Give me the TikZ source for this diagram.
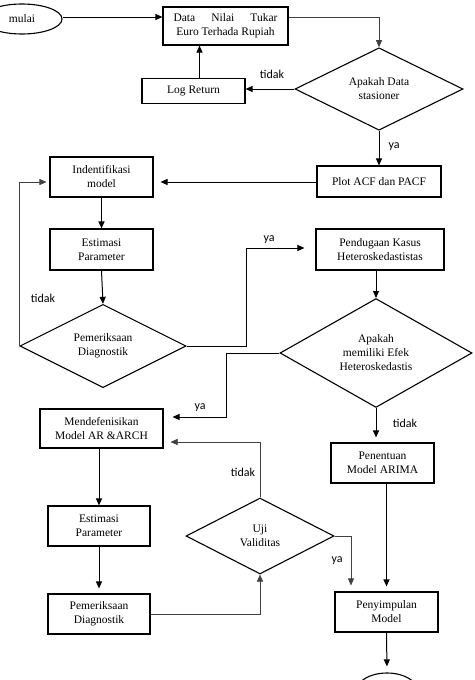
\documentclass[tikz,border=0pt]{standalone}
\usepackage{fontspec}
\setmainfont{Liberation Serif}
\newfontfamily\labfont{Carlito}
\usetikzlibrary{shapes.geometric,arrows.meta}
\begin{document}
\begin{tikzpicture}[x=1pt,y=-1pt,
  box/.style={draw,line width=1.1pt,inner sep=0pt,align=center,font=\fontsize{11.5}{14}\selectfont},
  dia/.style={draw,diamond,line width=1.1pt,inner sep=0pt,align=center,font=\fontsize{11.5}{14}\selectfont},
  oval/.style={draw,ellipse,line width=1.1pt,inner sep=0pt,font=\fontsize{11.5}{14}\selectfont},
  arr/.style={line width=1pt,-{Triangle[length=7pt,width=6pt]}},
  thinarr/.style={line width=0.6pt,draw=black!75,-{Triangle[length=7pt,width=6pt]}},
  thinline/.style={line width=0.6pt,draw=black!75},
  lab/.style={font=\labfont\fontsize{12}{14}\selectfont,inner sep=0pt}]
\useasboundingbox (0,0) rectangle (474,680);
% nodes
\node[oval,minimum width=80pt,minimum height=30pt] (start) at (22,19) {mulai};
\node[box,minimum width=125pt,minimum height=38pt] (data) at (225.5,26)
  {\makebox[104pt][s]{Data Nilai Tukar}\\Euro Terhada Rupiah};
\node[box,minimum width=103pt,minimum height=25pt] (logret) at (193.5,91) {Log Return};
\node[dia,minimum width=168pt,minimum height=82pt] (d1) at (379,89) {Apakah Data\\stasioner};
\node[box,minimum width=124pt,minimum height=31pt] (plot) at (379,181.5) {Plot ACF dan PACF};
\node[box,minimum width=103pt,minimum height=40pt] (ident) at (101.5,177) {Indentifikasi\\model};
\node[box,minimum width=103pt,minimum height=41pt] (est1) at (101.5,249.5) {Estimasi\\Parameter};
\node[dia,minimum width=166pt,minimum height=74pt] (d2) at (103,346) {Pemeriksaan\\Diagnostik};
\node[box,minimum width=128pt,minimum height=41pt] (pend) at (380,249.5) {Pendugaan Kasus\\Heteroskedastistas};
\node[dia,minimum width=192pt,minimum height=102pt] (d3) at (376,353) {Apakah\\memiliki Efek\\Heteroskedastis};
\node[box,minimum width=123pt,minimum height=39pt] (mdef) at (101.5,428.5) {Mendefenisikan\\Model AR \&ARCH};
\node[box,minimum width=103pt,minimum height=40pt] (pen) at (382.5,463) {Penentuan\\Model ARIMA};
\node[box,minimum width=102pt,minimum height=40pt] (est2) at (99,526) {Estimasi\\Parameter};
\node[box,minimum width=102pt,minimum height=40pt] (pem2) at (99,614) {Pemeriksaan\\Diagnostik};
\node[dia,minimum width=148pt,minimum height=76pt] (d4) at (260,536) {Uji\\Validitas};
\node[box,minimum width=103pt,minimum height=40pt] (peny) at (386.5,612) {Penyimpulan\\Model};
\node[oval,minimum width=60pt,minimum height=34pt] (stop) at (387,690) {};
% labels
\node[lab] (l1) at (272,74) {tidak};
\node[lab] (l2) at (394,147) {ya};
\node[lab] (l3) at (43,298) {tidak};
\node[lab] (l4) at (269,240) {ya};
\node[lab] (l5) at (200,408) {ya};
\node[lab] (l6) at (405,423) {tidak};
\node[lab] (l7) at (243,472) {tidak};
\node[lab] (l8) at (337,561) {ya};
% helper coordinates
\coordinate (k1) at (246,248);
\coordinate (k2) at (226,417);
\coordinate (k3) at (260,442);
\coordinate (k4) at (351,536);
% connectors
\draw[arr] (start.east |- 0,17) -- (data.west |- 0,17);
\draw[thinarr] ([yshift=9pt]data.east) -| (d1.north);
\draw[arr] (d1.west) -- (d1.west -| logret.east);
\draw[arr] ([xshift=6pt]logret.north) -- ([xshift=6pt]logret.north |- data.south);
\draw[arr] (d1.south) -- (plot.north);
\draw[arr,shorten >=7pt] (plot.west |- 0,182) -- (ident.east |- 0,182);
\draw[thinarr,shorten >=3pt] (d2.west) |- (ident.west |- 0,182);
\draw[arr] (ident.south) -- (est1.north);
\draw[arr] (est1.south) -- (d2.north);
\draw[arr,shorten >=11pt] (d2.east) -| (k1) -- (k1 -| pend.west);
\draw[arr] (pend.south -| d3.north) -- (d3.north);
\draw[arr,shorten >=9pt] (d3.west) -| (k2) -- (k2 -| mdef.east);
\draw[arr,shorten >=5pt] (d3.south) -- (d3.south |- pen.north);
\draw[arr] (est2.north |- mdef.south) -- (est2.north);
\draw[arr,shorten >=5pt] (est2.south) -- (pem2.north);
\draw[thinarr] (pem2.east) -| (d4.south);
\draw[thinarr,shorten >=7pt] (d4.north) |- (k3) -- (k3 -| mdef.east);
\draw[thinarr,shorten >=6pt] (d4.east) -- (k4) -- (k4 |- peny.north);
\draw[arr,shorten >=5pt] (peny.north |- pen.south) -- (peny.north);
\draw[arr,shorten >=6pt] (peny.south) -- (stop.north);
\end{tikzpicture}
\end{document}
